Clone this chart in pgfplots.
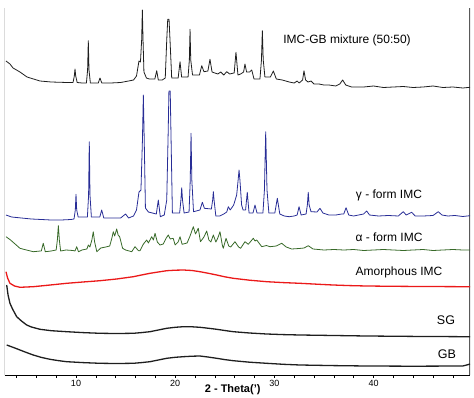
\documentclass[border=0pt]{standalone}
\usepackage{fontspec}
\setmainfont{Liberation Sans}
\usepackage{pgfplots}
\pgfplotsset{compat=1.18}
\definecolor{gblue}{RGB}{40,45,150}
\definecolor{agreen}{RGB}{55,105,40}
\definecolor{ared}{RGB}{235,25,25}
\definecolor{kdark}{RGB}{30,30,30}
\begin{document}
\begin{tikzpicture}
\useasboundingbox (-4.7pt,-22pt) rectangle (469.3pt,375pt);
\begin{axis}[
  at={(0,0)}, anchor=south west,
  scale only axis, width=465.3pt, height=367pt,
  xmin=2.81, xmax=49.73, ymin=-375, ymax=-8,
  axis x line*=bottom, axis y line=none,
  x axis line style={line width=0.8pt},
  xtick={10,20,30,40},
  minor xtick={4,6,8,12,14,16,18,22,24,26,28,32,34,36,38,42,44,46,48},
  ytick=\empty,
  tick align=outside,
  major tick length=3pt, minor tick length=3pt,
  every tick/.style={black, line width=0.6pt},
  /pgf/number format/assume math mode=true,
  xticklabel style={font=\fontsize{9}{10}\selectfont, yshift=1pt},
  xlabel={2 - Theta(')},
  every axis x label/.style={at={(axis description cs:0.49,0)}, yshift=-15pt, anchor=center, font=\fontsize{11}{13}\selectfont\bfseries},
  every axis plot/.append style={line join=round},
]
\draw[gray!80, line width=1.1pt] (rel axis cs:0,0) -- (rel axis cs:0,1);
\draw[gray!70!black, line width=1.1pt] (rel axis cs:1,0) -- (rel axis cs:1,1);

% IMC-GB mixture (50:50)
\addplot[kdark, line width=0.8pt] coordinates {
(2.94,-61)(3.34,-64)(3.65,-68)(4.35,-72)(5.06,-77)(6.37,-81)(7.5,-82)(9.09,-82.5)
(9.7,-82.5)(9.83,-76)(9.90,-69)(9.97,-76)(10.12,-82.5)(10.6,-83)
(11.05,-83)(11.17,-70)(11.24,-40.7)(11.31,-70)(11.45,-83)(11.9,-83)
(12.25,-83)(12.42,-78)(12.6,-83)
(13.5,-83)(14.5,-82.5)(15.3,-81)(15.8,-80)(16.1,-76)(16.35,-61)(16.5,-62)(16.62,-40)(16.69,-10)(16.76,-40)(16.85,-72)(17.1,-78)(17.4,-79)
(17.95,-79)(18.14,-70.7)(18.3,-80)(18.7,-80)(19.0,-78)(19.15,-40)(19.25,-19.3)(19.38,-19.3)(19.48,-40)(19.65,-78)
(20.3,-78)(20.49,-61.7)(20.65,-77)(20.9,-77)
(21.3,-77)(21.43,-60)(21.50,-29.3)(21.57,-60)(21.75,-75)
(22.45,-75)(22.68,-65.7)(22.9,-71.7)(23.3,-71)(23.51,-59.3)(23.72,-72)
(24.0,-73)(24.3,-74)(24.6,-72)(24.9,-75)(25.2,-71.7)(25.5,-74)(25.9,-73)
(25.95,-73)(26.13,-52.3)(26.33,-75)(26.6,-74)(26.9,-72)(27.04,-64)(27.2,-72)
(27.5,-72)(27.72,-70)(27.95,-79)
(28.55,-79)(28.7,-60)(28.79,-30.7)(28.88,-60)(29.05,-77)
(29.6,-77)(29.9,-71)(30.2,-79)(30.8,-80)(31.5,-82)(32.0,-83)(32.3,-81)(32.5,-83)(32.85,-80)(32.99,-70.7)(33.15,-80)(33.4,-82)(33.7,-81)(34.0,-84)(34.5,-84)(35.0,-85)(35.5,-85)(36.2,-86)(36.6,-84)(36.89,-80)(37.2,-85)(37.8,-87)
(39,-87)(40,-86)(41,-87.5)(42,-87)(43,-86.5)(44,-87.5)(45,-87)(46,-86)(47,-87.5)(48,-87)(49,-88)(49.73,-87.3)
};

% gamma-form IMC
\addplot[gblue, line width=0.8pt] coordinates {
(2.94,-215)(3.5,-217)(4.5,-218)(5.5,-219)(6.5,-219.5)(7.5,-220)(8.5,-220)(9.5,-219.5)
(9.8,-219)(9.93,-210)(10.0,-194.3)(10.07,-210)(10.22,-217)(10.7,-217)
(11.15,-217)(11.27,-195)(11.34,-141.7)(11.41,-195)(11.55,-217)(12.0,-217)
(12.4,-217)(12.59,-210)(12.8,-218)
(13.5,-218)(14.5,-218)(15.0,-214)(15.3,-218)(15.8,-216)(16.1,-210)(16.35,-192)(16.55,-190)(16.7,-140)(16.79,-95)(16.88,-140)(17.0,-208)(17.3,-212)
(18.1,-214)(18.30,-200)(18.5,-216.7)
(18.9,-215)(19.15,-200)(19.3,-130)(19.37,-91)(19.50,-91)(19.57,-130)(19.72,-213)
(20.45,-213)(20.58,-200)(20.66,-187.7)(20.74,-200)(20.9,-213)
(21.4,-212)(21.52,-180)(21.60,-133.3)(21.68,-180)(21.85,-211.7)
(22.5,-210)(22.74,-202.3)(22.95,-208.3)
(23.65,-209)(23.78,-200)(23.85,-191.7)(23.92,-200)(24.1,-216)(24.5,-216)(24.9,-214)
(25.2,-212)(25.36,-206.7)(25.55,-210)
(25.9,-205)(26.2,-195)(26.35,-180)(26.44,-170)(26.53,-180)(26.7,-205)(26.85,-210)
(27.1,-210)(27.27,-192.3)(27.45,-213)
(27.85,-213)(28.05,-205)(28.25,-213)
(28.85,-213)(29.0,-190)(29.13,-131.7)(29.26,-190)(29.45,-213)
(30.05,-213)(30.30,-198.3)(30.55,-214)
(31.0,-216)(31.5,-216.7)(32.0,-216)
(32.3,-215)(32.49,-206.7)(32.7,-215)
(33.2,-214)(33.33,-205)(33.42,-192.3)(33.51,-205)(33.7,-211.7)
(34.3,-212)(34.6,-208.3)(34.9,-213)
(35.5,-215)(36.2,-215)(36.8,-214)
(37.0,-214)(37.23,-207.7)(37.5,-215)
(38.0,-216)(38.5,-215)(39.0,-214)(39.31,-211)(39.6,-215)(40.5,-216)(41.5,-215.5)(42.5,-216)
(43.0,-211.7)(43.3,-215)(43.85,-212.3)(44.2,-216)(45,-216)(46,-215.5)(46.53,-211.7)(46.9,-215)(47.5,-216)(48.2,-215.5)(49,-216.5)(49.73,-215.7)
};

% alpha-form IMC
\addplot[agreen, line width=0.8pt] coordinates {
(2.94,-236.7)(3.4,-240)(4.35,-248.3)(5.0,-250)(5.69,-251.7)(6.4,-251)
(6.5,-251)(6.70,-243.3)(6.9,-251.7)(7.5,-251)
(8.0,-250)(8.12,-240)(8.22,-225.7)(8.32,-240)(8.45,-251)
(9.0,-250)(9.7,-250.5)(9.9,-251)(10.07,-246.7)(10.25,-251.7)
(10.6,-250)(11.1,-249)(11.24,-245)(11.4,-247)(11.6,-240)(11.74,-231.7)(11.88,-242)(12.1,-251.7)
(12.5,-248)(13.0,-247)(13.4,-246)(13.62,-238)(13.76,-231.7)(13.9,-236)(14.1,-229)(14.25,-235)(14.4,-236.7)(14.7,-248.3)
(15.0,-250)(15.62,-251.7)(15.95,-246.7)(16.3,-250.7)(16.45,-250.7)
(16.8,-244)(17.13,-240)(17.3,-243)(17.63,-236.7)(17.8,-240)(17.97,-233.3)(18.2,-242)(18.47,-245)
(18.8,-244)(19.1,-238)(19.31,-235)(19.5,-239)(19.8,-238.3)(20.0,-245)
(20.3,-242)(20.49,-236.7)(20.7,-244.3)
(21.2,-243)(21.5,-236)(21.83,-226.7)(22.05,-234)(22.33,-228.3)(22.55,-241.7)
(22.9,-237)(23.18,-231)(23.4,-240)(23.6,-242)(23.85,-235)(24.1,-242)
(24.3,-238)(24.52,-231.7)(24.75,-245)(24.85,-248.3)(25.13,-238.3)(25.4,-246)
(25.6,-247)(26.03,-241.7)(26.4,-247)(26.6,-248.3)(27.04,-241.7)(27.37,-244.3)(27.88,-238.3)(28.05,-241)(28.22,-240)(28.73,-246.7)
(29.2,-245.5)(29.56,-246.7)(30.2,-246)(30.74,-243.3)(31.2,-247)(31.75,-249)(32.5,-248.5)(33.0,-248)(33.42,-245.7)(33.9,-249)
(35,-250)(36,-249.5)(37,-250)(38,-249.5)(39,-250.5)(40,-250)(41,-249.5)(42,-250)(43,-250.5)(44,-250)(45,-249.5)(46,-250.5)(47,-250)(48,-249.5)(49,-250)(49.73,-250)
};

% Amorphous IMC
\addplot[ared, line width=1.3pt] coordinates {
(2.94,-271.7)(3.1,-278)(3.34,-283.3)(3.8,-286)(4.35,-287.3)(5.0,-287)(5.69,-286.7)(7.4,-285)(9.06,-283.3)(10.7,-282)(12.42,-280.7)(14.1,-279)(15.78,-276.7)(16.6,-275)(17.46,-273.3)(18.3,-272)(19.15,-270.7)(20.0,-270.2)(20.82,-270)(21.7,-270.5)(22.50,-271.7)(23.3,-273.2)(24.19,-275)(25.0,-276.8)(25.86,-278.3)(27.5,-280.2)(29.23,-281.7)(30.9,-282.6)(32.59,-283.3)(34.3,-284.2)(35.92,-285)(37.6,-285.6)(39.31,-286)(42,-286.3)(45,-286.5)(49.40,-286.7)(49.73,-286.7)
};

% SG
\addplot[kdark, line width=1.3pt] coordinates {
(3.01,-285)(3.15,-295)(3.34,-303.3)(3.6,-309)(4.02,-316.7)(4.5,-321)(5.03,-325)(5.5,-327)(6.37,-329.3)(7.5,-330.7)(9.06,-331.7)(10.7,-332.6)(12.42,-333.3)(14.1,-333.5)(15.78,-333.3)(16.6,-332.6)(17.46,-331.7)(18.3,-330)(19.15,-328.3)(20.0,-327.3)(20.82,-326.7)(21.7,-326.8)(22.50,-327.3)(23.3,-328.2)(24.19,-329.3)(25.0,-330.5)(25.86,-331.7)(27.5,-333)(29.23,-334)(30.9,-334.6)(32.59,-335)(36,-335.5)(39.31,-336)(44,-336.4)(49.40,-336.7)(49.73,-336.7)
};

% GB
\addplot[kdark, line width=1.3pt] coordinates {
(3.01,-345)(3.7,-347.5)(4.35,-350)(5.0,-352.5)(5.69,-355)(6.5,-357.4)(7.38,-359.3)(8.2,-360.6)(9.06,-361.7)(10.7,-362.6)(12.42,-363.3)(14.1,-363.5)(15.78,-363.3)(16.6,-362.6)(17.46,-361.7)(18.3,-360)(19.15,-358.3)(20.0,-357.3)(20.82,-356.7)(21.7,-356.2)(22.50,-356)(23.3,-357)(24.19,-358.3)(25.0,-359.6)(25.86,-360.7)(27.5,-362.2)(29.23,-363.3)(30.9,-364.3)(32.59,-365)(36,-365.6)(39.31,-366)(44,-366.2)(49.0,-366)(49.4,-365)(49.73,-364)
};

\node[font=\fontsize{12}{14}\selectfont] at (axis cs:37.33,-40) {IMC-GB mixture (50:50)};
\node[font=\fontsize{12}{14}\selectfont] at (axis cs:41.56,-195) {γ - form IMC};
\node[font=\fontsize{12}{14}\selectfont] at (axis cs:41.56,-237) {α - form IMC};
\node[font=\fontsize{12}{14}\selectfont] at (axis cs:42.57,-272) {Amorphous IMC};
\node[font=\fontsize{12.5}{14}\selectfont] at (axis cs:47.31,-320) {SG};
\node[font=\fontsize{12.5}{14}\selectfont] at (axis cs:47.41,-354) {GB};
\end{axis}
\end{tikzpicture}
\end{document}
